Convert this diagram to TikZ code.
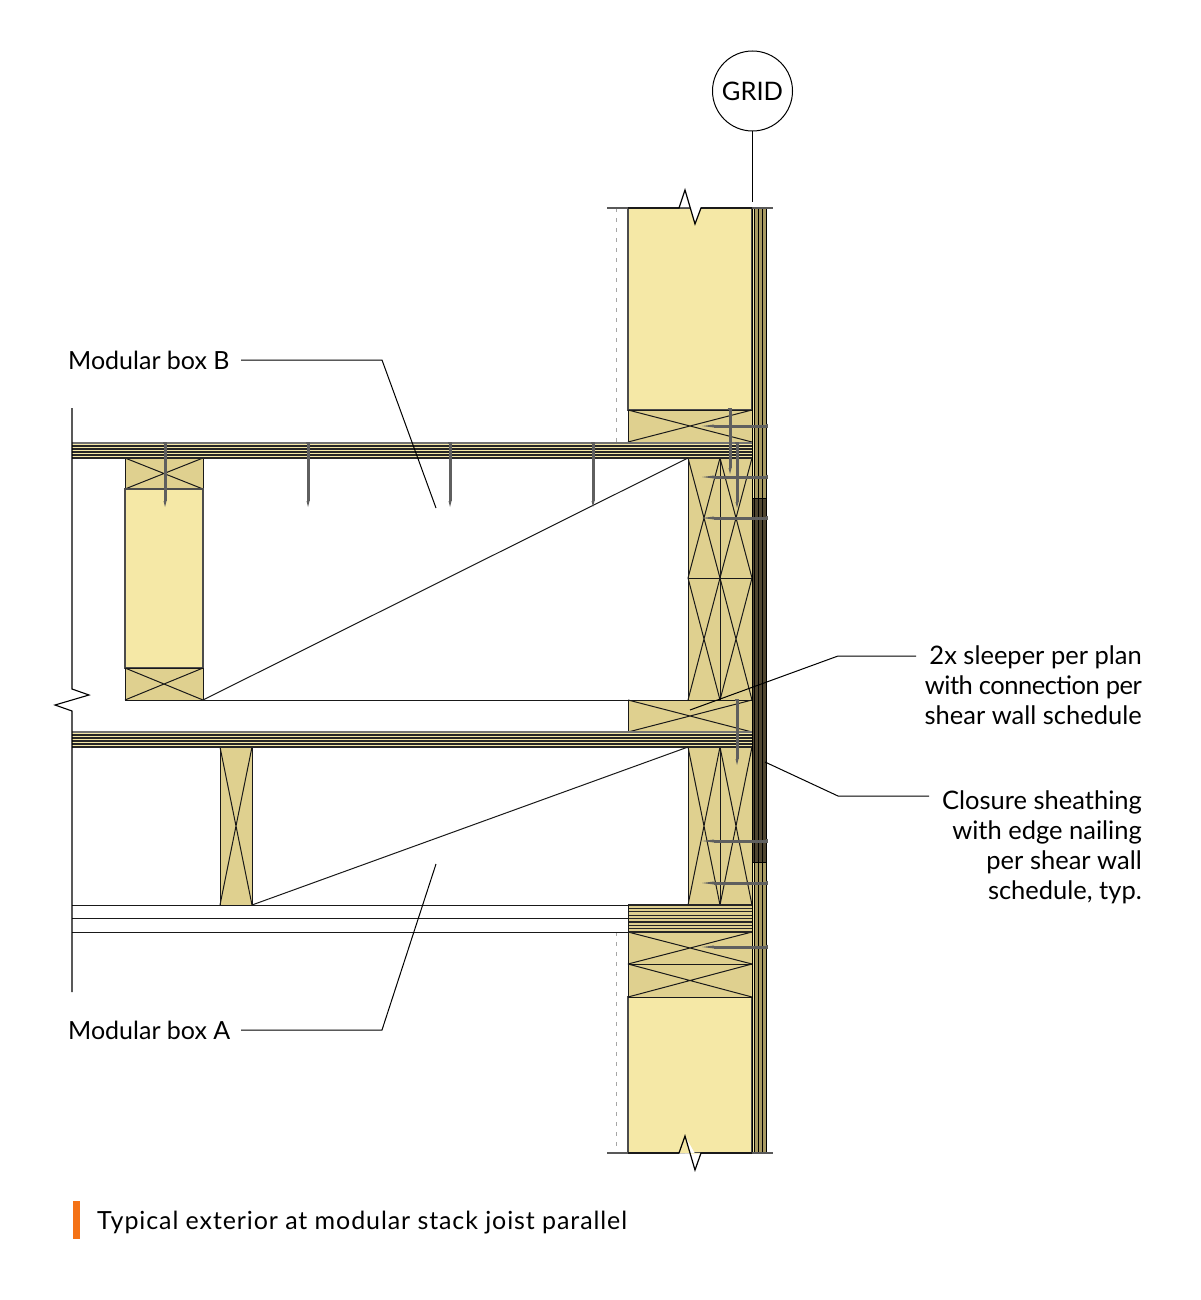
\documentclass[tikz,border=0pt]{standalone}
\usepackage{fontspec}
\setmainfont{Lato}
\newfontfamily\capfont[LetterSpace=3.6]{Lato}
\newfontfamily\tightfont[LetterSpace=-2]{Lato}
\definecolor{lumyel}{HTML}{F5E8A6}
\definecolor{lumtan}{HTML}{DFD08F}
\definecolor{plyol}{HTML}{A89A62}
\definecolor{darkply}{HTML}{4F4530}
\definecolor{nailg}{HTML}{5F5F5F}
\definecolor{orangebar}{HTML}{F47216}
\tikzset{
 x=1pt,y=-1pt,
 ln/.style={draw=black!90,line width=1pt},
 thin ln/.style={draw=black!90,line width=1pt},
 stud/.style={fill=lumyel,draw=black!70,line width=1.1pt},
 nail/.style={draw=nailg,line width=3pt},
 leader/.style={draw=black,line width=1pt},
 lab/.style={font=\fontsize{25.5}{30}\selectfont,inner sep=0pt,align=right,anchor=north east},
 labl/.style={font=\fontsize{25}{30}\selectfont,inner sep=0pt,anchor=west},
}
\newcommand{\xbox}[4]{\fill[lumtan] (#1,#2) rectangle (#3,#4);
 \draw[ln] (#1,#2) rectangle (#3,#4); \draw[ln] (#1,#2)--(#3,#4) (#1,#4)--(#3,#2);}
\newcommand{\band}[3]{\fill[lumyel] (#1,#2) rectangle (#3,#2+15);
 \foreach \yy in {3,6,9,12}{\draw[draw=black!85,line width=1.25pt] (#1,#2+\yy)--(#3,#2+\yy);}
 \draw[draw=black!55,line width=2pt] (#1,#2)--(#3,#2);
 \draw[draw=black!85,line width=1.4pt] (#1,#2+15)--(#3,#2+15);}
\newcommand{\vnail}[3]{\draw[nail] (#1,#2)--(#1,#3-6); \fill[nailg] (#1-1.5,#3-6)--(#1+1.5,#3-6)--(#1,#3)--cycle;
 \draw[nailg,line width=1.2pt] (#1-2.4,#2)--(#1+2.4,#2);}
\newcommand{\hnail}[1]{\draw[nail] (767,#1)--(714,#1); \fill[nailg] (714,#1-1.5)--(714,#1+1.5)--(702,#1)--cycle;
 \draw[nailg,line width=1.2pt] (767,#1-2.4)--(767,#1+2.4);}
\begin{document}
\begin{tikzpicture}
\useasboundingbox (0,0) rectangle (1200,1300);
\fill[white] (0,0) rectangle (1200,1300);

% dashed reference line
\draw[black!35,line width=0.8pt,dash pattern=on 4pt off 6pt] (616,208)--(616,442) (616,932)--(616,1153);

% upper wall
\draw[stud] (628,208) rectangle (752,410);
\xbox{628}{410}{752}{442}
% lower wall
\draw[stud] (628,997) rectangle (752,1153);
\xbox{628}{932}{752}{964}
\xbox{628}{964}{752}{997}

% rim stack, upper
\xbox{688}{458}{720}{578}
\xbox{720}{458}{752}{578}
\xbox{688}{578}{720}{700}
\xbox{720}{578}{752}{700}
\xbox{628}{700}{752}{732}
% rim stack, lower
\xbox{688}{747}{720}{905}
\xbox{720}{747}{752}{905}

% left framing
\xbox{125}{458}{203}{489}
\draw[stud] (125,489) rectangle (203,668);
\xbox{125}{668}{203}{700}
\xbox{220}{747}{252}{905}

% bands
\band{72}{443}{752}
\band{72}{732}{752}
\fill[lumtan] (628,905) rectangle (752,932);
\foreach \yy in {905,908.4,911.8,915.2,918.6,922,925.4,928.8,932}{\draw[draw=black!85,line width=1.2pt] (628,\yy)--(752,\yy);}
\draw[ln] (628,905)--(628,932);

% floor lines and diagonals
\draw[ln] (203,700)--(628,700);
\draw[thin ln] (203,700)--(688,458);
\draw[thin ln] (252,905)--(688,747);
\draw[ln] (72,905)--(628,905) (72,918)--(628,918) (72,932)--(628,932);

% left cut line
\draw[draw=black,line width=1.1pt] (72,408)--(72,689)--(89,695)--(55,705)--(72,711)--(72,992);

% sheathing
\fill[plyol] (752,208) rectangle (766,1153);
\fill[lumyel] (753,208) rectangle (755,1153);
\foreach \xx in {752.3,754.6,758.3,762,766}{\draw[draw=black,line width=0.85pt] (\xx,208)--(\xx,1153);}
\fill[darkply] (752,498) rectangle (766,862);
\foreach \xx in {754.6,758.3,762}{\draw[draw=black,line width=0.8pt] (\xx,498)--(\xx,862);}
\draw[draw=black,line width=1pt] (752,498) rectangle (766,862);

% cut lines top / bottom
\draw[black!65,line width=1.1pt] (607,208)--(628,208) (752,208)--(773,208) (607,1153)--(628,1153) (752,1153)--(773,1153);
\fill[white] (680,207) -- (685,190) -- (695,224) -- (701,207) -- cycle;
\draw[draw=black,line width=1.2pt] (628,208)--(679,208)--(685,190)--(695,224)--(701,208)--(752,208);
\fill[white] (679,1153.6)--(685,1136)--(695,1153.6)--cycle;
\fill[lumyel] (679,1153)--(685,1136)--(695,1170)--(701,1153)--cycle;
\fill[white] (679,1153.6)--(701,1153.6)--(695,1171)--(685,1153.6)--cycle;
\draw[draw=black,line width=1.2pt] (628,1153)--(679,1153)--(685,1136)--(695,1170)--(701,1153)--(752,1153);

% nails
\vnail{165}{443}{507}
\vnail{308}{443}{507}
\vnail{450}{443}{507}
\vnail{593}{443}{507}
\vnail{730}{409}{474}
\vnail{737}{443}{508}
\vnail{737}{700}{765}
\hnail{426}
\hnail{477}
\hnail{518}
\hnail{841}
\hnail{883}
\hnail{947}

% grid
\node (grid) at (752.5,91) [circle,draw=black,line width=1pt,fill=white,minimum size=80pt,inner sep=0pt,font=\fontsize{25.5}{28}\selectfont] {GRID};
\coordinate (gridend) at (752.5,202);
\draw[leader] (grid.south)--(gridend);

% labels
\node[labl] (boxb) at (68,360) {Modular box B};
\node[labl] (boxa) at (68,1030) {Modular box A};
\node[lab] (sleeper) at (1142,645.5) {2x sleeper per plan\\{\tightfont with connection per}\\shear wall schedule};
\node[lab] (closure) at (1142,790.5) {Closure sheathing\\with edge nailing\\per shear wall\\schedule, typ.};
\coordinate (bbs) at (241,360); \coordinate (bbk) at (382,360); \coordinate (bbe) at (436,508);
\coordinate (bas) at (241,1030); \coordinate (bak) at (382,1030); \coordinate (bae) at (436,864);
\coordinate (sls) at (916,656); \coordinate (slk) at (838,656); \coordinate (sle) at (690,710);
\coordinate (cls) at (929,796); \coordinate (clk) at (838,796); \coordinate (cle) at (765,762);
\draw[leader] (bbs)--(bbk)--(bbe);
\draw[leader] (bas)--(bak)--(bae);
\draw[leader] (sls)--(slk)--(sle);
\draw[leader] (cls)--(clk)--(cle);

% caption
\fill[orangebar] (73,1201) rectangle (80,1239);
\node[inner sep=0pt,anchor=west,font=\capfont\fontsize{25}{30}\selectfont] (caption) at (97,1223) {Typical exterior at modular stack joist parallel};
\end{tikzpicture}
\end{document}
